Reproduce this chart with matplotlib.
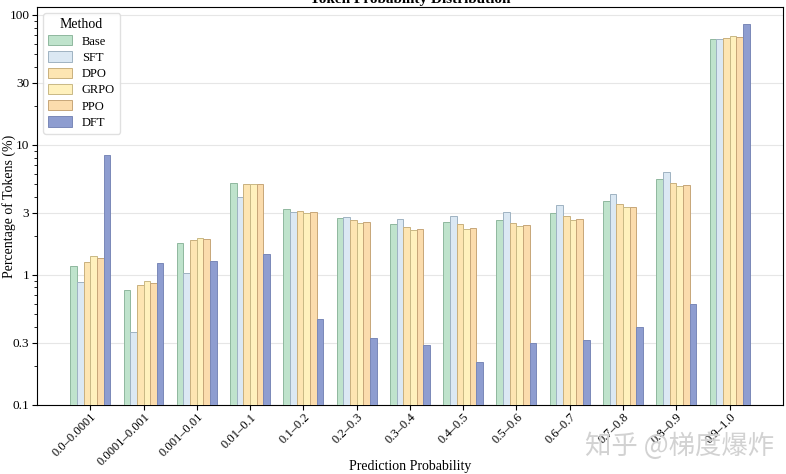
import matplotlib.pyplot as plt
import numpy as np

plt.rcParams['font.family'] = ['Liberation Serif', 'DejaVu Serif']

bins = ['0.0–0.0001', '0.0001–0.001', '0.001–0.01', '0.01–0.1', '0.1–0.2',
        '0.2–0.3', '0.3–0.4', '0.4–0.5', '0.5–0.6', '0.6–0.7', '0.7–0.8',
        '0.8–0.9', '0.9–1.0']

methods = ['Base', 'SFT', 'DPO', 'GRPO', 'PPO', 'DFT']

base = [1.17, 0.76, 1.77, 5.1, 3.2, 2.73, 2.48, 2.57, 2.65, 3.0, 3.71, 5.45, 65.7]
sft = [0.88, 0.362, 1.03, 4.0, 3.05, 2.78, 2.68, 2.84, 3.03, 3.44, 4.22, 6.24, 65.9]
dpo = [1.26, 0.83, 1.86, 5.04, 3.09, 2.64, 2.35, 2.45, 2.51, 2.83, 3.5, 5.07, 66.9]
grpo = [1.39, 0.89, 1.92, 5.0, 3.0, 2.51, 2.22, 2.26, 2.38, 2.64, 3.3, 4.81, 68.6]
ppo = [1.35, 0.87, 1.89, 5.0, 3.03, 2.54, 2.26, 2.31, 2.41, 2.68, 3.32, 4.9, 67.7]
dft = [8.42, 1.24, 1.28, 1.45, 0.459, 0.326, 0.286, 0.213, 0.30, 0.318, 0.396, 0.595, 85.3]

series = [base, sft, dpo, grpo, ppo, dft]
colors = ['#bfe3cc', '#dbe8f3', '#fde5b2', '#fff1bd', '#fbdcad', '#8e9dd0']
edges = ['#8fb89e', '#9fb3c2', '#c9b07e', '#c9b985', '#c7a679', '#7a88b8']

fig = plt.figure(figsize=(7.86, 4.74), dpi=100)
ax = fig.add_axes([0.047, 0.146, 0.949, 0.839])

x = np.arange(len(bins))
w = 0.125
for i, (name, vals) in enumerate(zip(methods, series)):
    ax.bar(x + (i - 2.5) * w, vals, width=w, color=colors[i],
           edgecolor=edges[i], linewidth=0.7, label=name, zorder=3)

ax.set_yscale('log')
ax.set_ylim(0.1, 115)
ax.set_xlim(-1, 13)
ax.set_yticks([0.1, 0.3, 1, 3, 10, 30, 100])
ax.set_yticklabels(['0.1', '0.3', '1', '3', '10', '30', '100'], fontsize=9.5)
ax.grid(axis='y', which='major', color='#e6e6e6', linewidth=0.8, zorder=0)
ax.set_xticks(x)
ax.set_xticklabels(bins, rotation=45, ha='right', rotation_mode='anchor', fontsize=9)
ax.tick_params(axis='x', pad=1)
ax.tick_params(axis='y', which='major', pad=2)
ax.tick_params(axis='y', which='minor', length=2)
ax.set_xlabel('Prediction Probability', fontsize=10, va='center')
ax.xaxis.set_label_coords(0.5, -0.155)
ax.set_ylabel('Percentage of Tokens (%)', fontsize=10, va='center')
ax.yaxis.set_label_coords(-0.037, 0.5)
ax.set_title('Token Probability Distribution', fontsize=11, fontweight='bold', pad=3)

ax.legend(title='Method', loc='upper left', fontsize=9, title_fontsize=10,
          framealpha=0.9, edgecolor='#dddddd', handlelength=1.9,
          handleheight=0.9, labelspacing=0.3, borderaxespad=0.5)

fig.text(0.865, 0.058, '知乎 @梯度爆炸', fontsize=19, color='#d2d2d2',
         family=['Noto Sans CJK SC', 'DejaVu Sans'], ha='center', va='center')

plt.savefig('out.png', dpi=100)
